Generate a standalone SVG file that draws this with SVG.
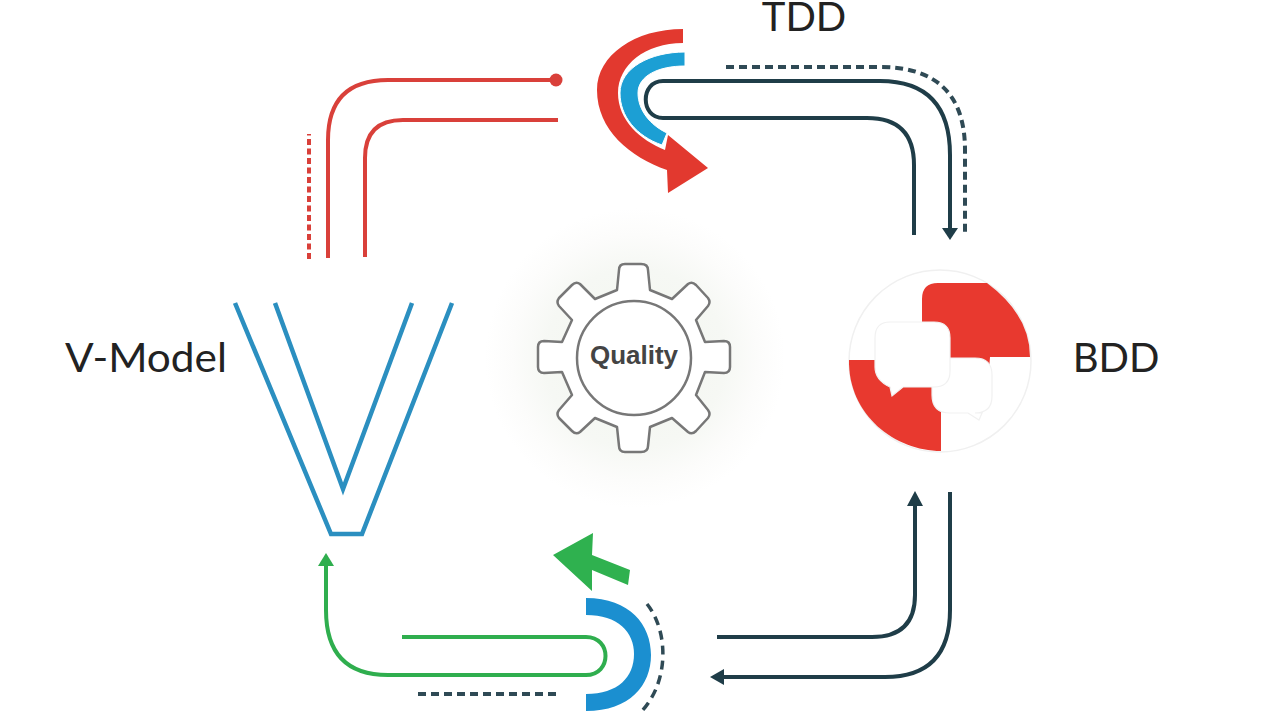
<svg xmlns="http://www.w3.org/2000/svg" width="1280" height="720" viewBox="0 0 1280 720">
<defs>
<radialGradient id="glow"><stop offset="0" stop-color="#f2f6ee"/><stop offset="0.6" stop-color="#f6f8f4"/><stop offset="0.82" stop-color="#fcfcfb"/><stop offset="1" stop-color="#ffffff"/></radialGradient>
</defs>
<style>
text{font-family:"Lato","Open Sans","Liberation Sans",sans-serif;fill:#222}
.l{font-size:40px}
.n{fill:none;stroke:#1f3d48;stroke-width:4}
.r{fill:none;stroke:#d9403a;stroke-width:4}
.g{fill:none;stroke:#2fae4e;stroke-width:4}
.b{fill:none;stroke:#2b8fc0;stroke-width:4.5}
.d{fill:none;stroke:#2f4a55;stroke-width:4;stroke-dasharray:8 5}
.bub{fill:#fff;stroke:#f1f1f1;stroke-width:1.2}
</style>
<g id="connectors">
<path class="r" d="M328 258V140Q328 80 388 80H556"/>
<circle cx="556" cy="80" r="6.5" fill="#d9403a"/>
<path class="r" d="M365 257V158Q365 120 403 120H558"/>
<path class="r" style="stroke-dasharray:6 3.5" d="M309 259V134"/>
<path class="n" d="M914 235V165Q914 118 867 118H663C640 118 640 81 663 81H880Q950 81 950 155V230"/>
<path d="M942 228L958 228L950 240Z" fill="#1f3d48"/>
<path class="d" d="M726 67H880Q965 67 965 150V236"/>
<path class="n" d="M717 637H872Q915 637 915 595V505"/>
<path d="M907 506L915 491L923 506Z" fill="#1f3d48"/>
<path class="n" d="M950 492V610Q950 677 885 677H722"/>
<path d="M724 669L710 677L724 685Z" fill="#1f3d48"/>
<path class="g" d="M402 637H586C612 637 612 675 586 675H388Q326 675 326 610V565"/>
<path d="M318 566L326 553L334 566Z" fill="#2fae4e"/>
<path class="d" d="M418 694H556"/>
<path d="M647 604C668 630 670 680 642 711" fill="none" stroke="#2f4a55" stroke-width="3.5" stroke-dasharray="9 6"/>
</g>
<g id="tdd">
<path d="M683 29V43C645 43 618 65 618 93C618 120 640 140 665 150L668 135L708 168L668 193L667 170C630 157 597 130 597 90C597 55 635 29 683 29Z" fill="#e2392f"/>
<path d="M685 52V66C658 66 638 76 638 93C638 110 650 125 667 133L662 145C636 136 620 116 620 93C620 68 650 52 685 52Z" fill="#1c9fd4" stroke="#fff" stroke-width="1"/>
<text class="l" x="804" y="31" text-anchor="middle">TDD</text>
</g>
<g id="v-model">
<path class="b" d="M235 303L331 534H362L452 303"/>
<path class="b" d="M275 303L343 489L412 303"/>
<text class="l" x="146" y="372" text-anchor="middle" textLength="162" lengthAdjust="spacingAndGlyphs">V-Model</text>
</g>
<g id="quality">
<circle cx="635" cy="358" r="150" fill="url(#glow)"/>
<path fill="#fff" stroke="#777" stroke-width="2.5" stroke-linejoin="round" d="M619 270Q619 264 625 264H641Q648 264 648 270L650 290L672 299L688 284Q692 281 696 285L708 298Q711 302 708 306L696 320L705 342L724 341Q730 341 730 347V367Q730 373 724 373L705 372L696 395L708 410Q711 414 708 418L696 431Q692 435 688 432L672 418L650 427L648 446Q648 452 641 452H625Q619 452 619 446L617 427L595 418L580 432Q576 435 572 431L559 418Q556 414 559 410L572 395L562 372L544 373Q538 373 538 367V347Q538 341 544 341L562 342L572 320L559 306Q556 302 559 298L572 285Q576 281 580 284L595 299L617 290Z"/>
<circle cx="634" cy="358" r="57" fill="#fff" stroke="#777" stroke-width="2.5"/>
<text x="634" y="364" text-anchor="middle" style="font-family:'Liberation Sans',sans-serif;font-size:26px;font-weight:700;fill:#444">Quality</text>
</g>
<g id="bdd">
<circle cx="940" cy="361" r="91" fill="#fff" stroke="#f0f0f0" stroke-width="1.5"/>
<path d="M922 330V299Q922 283 938 283H987Q1030 315 1030 357H990L989 370L972 358H922Z" fill="#e8392f"/>
<path d="M849 360H941V451C895 451 848 415 849 360Z" fill="#e8392f"/>
<path class="bub" d="M950 358H975Q992 358 992 375V396Q992 413 975 413H982L979 420L968 413H950Q932 413 932 395V375Q932 358 950 358Z"/>
<path class="bub" d="M890 322H934Q950 322 950 338V371Q950 387 934 387H903L892 396L890 387Q875 380 875 367V338Q875 322 890 322Z"/>
<text class="l" x="1116" y="372" text-anchor="middle">BDD</text>
</g>
<g id="bottom-arc">
<path d="M586 598C630 598 651 625 651 655C651 685 630 711 586 711V694C618 694 634 677 634 654C634 632 618 615 586 615Z" fill="#1b8fd0"/>
<path d="M553 555L593 533L592 555L630 570L628 585L592 570L592 591Z" fill="#2fb14f"/>
</g>
</svg>
